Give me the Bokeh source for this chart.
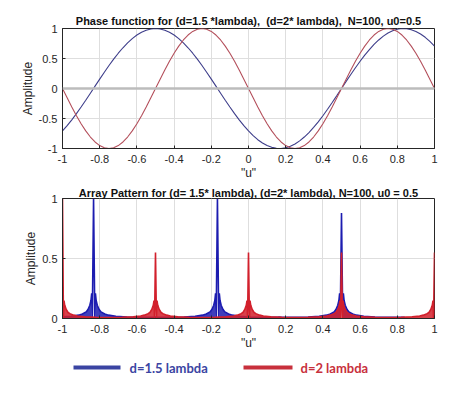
import numpy as np
from bokeh.plotting import figure
from bokeh.layouts import column
from bokeh.models import FixedTicker, Span, Range1d
from bokeh.core.properties import value
from bokeh.embed import file_html
from bokeh.resources import INLINE

# ---------------- data ----------------
u = [-1.0, -0.975, -0.95, -0.925, -0.9, -0.875, -0.85, -0.825, -0.8, -0.775,
     -0.75, -0.725, -0.7, -0.675, -0.65, -0.625, -0.6, -0.575, -0.55, -0.525,
     -0.5, -0.475, -0.45, -0.425, -0.4, -0.375, -0.35, -0.325, -0.3, -0.275,
     -0.25, -0.225, -0.2, -0.175, -0.15, -0.125, -0.1, -0.075, -0.05, -0.025,
     0.0, 0.025, 0.05, 0.075, 0.1, 0.125, 0.15, 0.175, 0.2, 0.225,
     0.25, 0.275, 0.3, 0.325, 0.35, 0.375, 0.4, 0.425, 0.45, 0.475,
     0.5, 0.525, 0.55, 0.575, 0.6, 0.625, 0.65, 0.675, 0.7, 0.725,
     0.75, 0.775, 0.8, 0.825, 0.85, 0.875, 0.9, 0.925, 0.95, 0.975, 1.0]
phase_d15 = [-0.707, -0.619, -0.522, -0.419, -0.309, -0.195, -0.078, 0.039, 0.156, 0.271,
             0.383, 0.489, 0.588, 0.679, 0.760, 0.831, 0.891, 0.938, 0.972, 0.993,
             1.0, 0.993, 0.972, 0.938, 0.891, 0.831, 0.760, 0.679, 0.588, 0.489,
             0.383, 0.271, 0.156, 0.039, -0.078, -0.195, -0.309, -0.419, -0.522, -0.619,
             -0.707, -0.785, -0.853, -0.908, -0.951, -0.981, -0.997, -0.999, -0.988, -0.962,
             -0.924, -0.873, -0.809, -0.734, -0.649, -0.556, -0.454, -0.346, -0.233, -0.118,
             0.0, 0.118, 0.233, 0.346, 0.454, 0.556, 0.649, 0.734, 0.809, 0.873,
             0.924, 0.962, 0.988, 0.999, 0.997, 0.981, 0.951, 0.908, 0.853, 0.785, 0.707]
phase_d2 = [0.0, -0.156, -0.309, -0.454, -0.588, -0.707, -0.809, -0.891, -0.951, -0.988,
            -1.0, -0.988, -0.951, -0.891, -0.809, -0.707, -0.588, -0.454, -0.309, -0.156,
            0.0, 0.156, 0.309, 0.454, 0.588, 0.707, 0.809, 0.891, 0.951, 0.988,
            1.0, 0.988, 0.951, 0.891, 0.809, 0.707, 0.588, 0.454, 0.309, 0.156,
            0.0, -0.156, -0.309, -0.454, -0.588, -0.707, -0.809, -0.891, -0.951, -0.988,
            -1.0, -0.988, -0.951, -0.891, -0.809, -0.707, -0.588, -0.454, -0.309, -0.156,
            0.0, 0.156, 0.309, 0.454, 0.588, 0.707, 0.809, 0.891, 0.951, 0.988,
            1.0, 0.988, 0.951, 0.891, 0.809, 0.707, 0.588, 0.454, 0.309, 0.156, 0.0]

# array pattern: main-lobe positions / heights and side-lobe envelope
peak_u_d15 = [-0.833, -0.167, 0.5]
peak_h_d15 = [1.0, 1.0, 0.88]
env_off_d15 = [0.010, 0.014, 0.02, 0.03, 0.04, 0.06, 0.08, 0.12, 0.18, 0.25, 0.34]
env_h_d15 = [0.21, 0.15, 0.11, 0.075, 0.055, 0.038, 0.028, 0.019, 0.013, 0.011, 0.01]
null_off_d15 = 0.0067

peak_u_d2 = [-1.0, -0.5, 0.0, 0.5, 1.0]
peak_h_d2 = [1.0, 0.55, 0.55, 0.55, 0.55]
env_off_d2 = [0.008, 0.012, 0.02, 0.03, 0.04, 0.06, 0.08, 0.12, 0.18, 0.25]
env_h_d2 = [0.15, 0.11, 0.075, 0.05, 0.04, 0.028, 0.02, 0.014, 0.01, 0.008]
null_off_d2 = 0.005

x_ticks = [-1, -0.8, -0.6, -0.4, -0.2, 0, 0.2, 0.4, 0.6, 0.8, 1]
x_tick_labels = ["-1", "-0.8", "-0.6", "-0.4", "-0.2", "0", "0.2", "0.4", "0.6", "0.8", "1"]
y1_ticks = [-1, -0.5, 0, 0.5, 1]
y1_tick_labels = ["-1", "-0.5", "0", "0.5", "1"]
y2_ticks = [0, 0.5, 1]
y2_tick_labels = ["0", "0.5", "1"]

legend_labels = ["d=1.5 lambda", "d=2 lambda"]

# ---------------- styling ----------------
FONT = "Liberation Sans"
TXT = "#262626"
GRID = "#dedede"
NB = "\u00a0"


def style(p, yt, ytl, title):
    p.x_range = Range1d(-1, 1)
    p.xaxis.ticker = FixedTicker(ticks=x_ticks)
    p.xaxis.major_label_overrides = {float(t): l for t, l in zip(x_ticks, x_tick_labels)}
    p.yaxis.ticker = FixedTicker(ticks=yt)
    p.yaxis.major_label_overrides = {float(t): l for t, l in zip(yt, ytl)}
    p.xgrid.ticker = FixedTicker(ticks=x_ticks)
    p.ygrid.ticker = FixedTicker(ticks=yt)
    p.grid.grid_line_color = GRID
    p.grid.grid_line_width = 1
    for ax in (p.xaxis[0], p.yaxis[0]):
        ax.major_label_text_font = FONT
        ax.major_label_text_font_size = "11px"
        ax.major_label_text_color = TXT
        ax.axis_label_text_font = FONT
        ax.axis_label_text_font_size = "12px"
        ax.axis_label_text_font_style = "normal"
        ax.axis_label_text_color = TXT
        ax.axis_line_color = TXT
        ax.major_tick_line_color = TXT
        ax.major_tick_in = 3
        ax.major_tick_out = 0
        ax.minor_tick_line_color = None
    p.xaxis.major_label_standoff = 6
    p.xaxis.axis_label_standoff = 0
    p.yaxis.major_label_standoff = 5
    p.yaxis.axis_label_standoff = 1
    p.xaxis.axis_label = '"u"'
    p.yaxis.axis_label = "Amplitude"
    p.outline_line_color = TXT
    p.outline_line_alpha = 1
    p.title.text = title
    p.title.text_font = FONT
    p.title.text_font_size = "11px"
    p.title.text_font_style = "bold"
    p.title.text_color = "#111111"
    p.title.align = "center"
    p.title.offset = 0
    p.title.standoff = 3
    p.background_fill_color = "white"
    p.border_fill_color = "white"


# ---------------- top: phase function ----------------
p1 = figure(frame_width=372, frame_height=120, output_backend="svg", toolbar_location=None,
            min_border_left=62, min_border_right=40, min_border_top=28, min_border_bottom=32)
style(p1, y1_ticks, y1_tick_labels,
      "Phase function for (d=1.5 *lambda)," + NB + NB + "(d=2* lambda)," + NB + NB + "N=100, u0=0.5")
p1.y_range = Range1d(-1, 1)
p1.add_layout(Span(location=0, dimension="width", line_color="#bcbcbc", line_width=2.5))
p1.line(u, phase_d15, line_color="#3d3d8a", line_width=1.1)
p1.line(u, phase_d2, line_color="#b4505c", line_width=1.1)


# ---------------- bottom: array pattern ----------------
def build(peaks_u, peaks_h, offs, env, null):
    offs = np.asarray(offs)
    env = np.asarray(env)
    line_xs, line_ys, fill_xs, fill_ys = [], [], [], []
    for u0, h in zip(peaks_u, peaks_h):
        lx = np.concatenate([u0 - offs[::-1], [u0 - null, u0, u0 + null], u0 + offs])
        ly = np.concatenate([env[::-1], [0.0, h, 0.0], env])
        line_xs.append(lx)
        line_ys.append(ly)
        for sgn in (-1, 1):
            fx = np.concatenate([[u0 + sgn * offs[0]], u0 + sgn * offs, [u0 + sgn * offs[-1]]])
            fy = np.concatenate([[0.0], env, [0.0]])
            fill_xs.append(fx)
            fill_ys.append(fy)
    return line_xs, line_ys, fill_xs, fill_ys


p2 = figure(frame_width=372, frame_height=120, output_backend="svg", toolbar_location=None,
            min_border_left=62, min_border_right=40, min_border_top=16, min_border_bottom=34)
style(p2, y2_ticks, y2_tick_labels,
      "Array Pattern for (d= 1.5* lambda), (d=2* lambda), N=100, u0 = 0.5")
p2.title.standoff = 0
p2.y_range = Range1d(0, 1)

BLUE = "#1c1cb0"
RED = "#d2202c"
bl_xs, bl_ys, bf_xs, bf_ys = build(peak_u_d15, peak_h_d15, env_off_d15, env_h_d15, null_off_d15)
rl_xs, rl_ys, rf_xs, rf_ys = build(peak_u_d2, peak_h_d2, env_off_d2, env_h_d2, null_off_d2)
p2.patches(bf_xs, bf_ys, fill_color=BLUE, fill_alpha=0.85, line_color=None)
p2.multi_line(bl_xs, bl_ys, line_color=BLUE, line_width=1.6)
p2.patches(rf_xs, rf_ys, fill_color=RED, fill_alpha=0.85, line_color=None)
p2.multi_line(rl_xs, rl_ys, line_color=RED, line_width=1.6)

# ---------------- legend strip (frame aligned with the plots above: px 62..434) ----------------
LH = 40
p3 = figure(frame_width=372, frame_height=LH, output_backend="svg", toolbar_location=None,
            min_border_left=62, min_border_right=40, min_border_top=0, min_border_bottom=0,
            x_range=(62, 434), y_range=(0, LH))
p3.axis.visible = False
p3.grid.visible = False
p3.outline_line_color = None
LEG_BLUE = "#3a44a2"
LEG_RED = "#c8303c"
p3.segment(x0=[73, 243], y0=[25, 25], x1=[120, 292], y1=[25, 25],
           line_color=[LEG_BLUE, LEG_RED], line_width=4)
p3.text(x=[129, 300], y=[25, 25], text=legend_labels, text_baseline="middle",
        text_font=value("Lato"), text_font_style="bold", text_font_size="13px",
        text_color=[LEG_BLUE, LEG_RED])

layout = column(p1, p2, p3, spacing=0)
open("out.html", "w").write(file_html(layout, INLINE))
